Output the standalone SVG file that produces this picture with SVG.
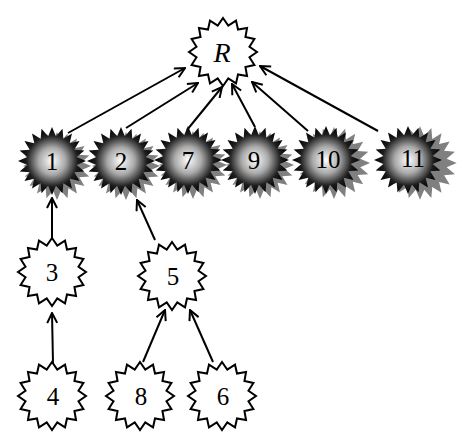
<svg xmlns="http://www.w3.org/2000/svg" xmlns:xlink="http://www.w3.org/1999/xlink" width="474" height="447" viewBox="0 0 474 447">
<style>
.wstar{fill:#fff;stroke:#000;stroke-width:2;stroke-linejoin:miter}
.dstar{fill:url(#dg)}
.shadow{fill:#808080}
.lbl{font-family:"Liberation Serif","DejaVu Serif",serif;font-size:25px;fill:#000;text-anchor:middle}
.edge{stroke:#000;stroke-width:2;fill:none;marker-end:url(#arr)}
</style>
<defs>
<radialGradient id="dg" cx="50%" cy="50%" r="50%">
<stop offset="0" stop-color="#ffffff"/>
<stop offset="0.4" stop-color="#a8a8a8"/>
<stop offset="0.75" stop-color="#1e1e1e"/>
<stop offset="1" stop-color="#000"/>
</radialGradient>
<marker id="arr" viewBox="0 0 12 12" refX="11" refY="6" markerWidth="12" markerHeight="12" markerUnits="userSpaceOnUse" orient="auto">
<path d="M1,1 L11,6 L1,11" fill="none" stroke="#000" stroke-width="2"/>
</marker>
<path id="ws" d="M0,-34 L5.27,-26.48 L13.01,-31.41 L15,-22.45 L24.04,-24.04 L22.45,-15 L31.41,-13.01 L26.48,-5.27 L34,0 L26.48,5.27 L31.41,13.01 L22.45,15 L24.04,24.04 L15,22.45 L13.01,31.41 L5.27,26.48 L0,34 L-5.27,26.48 L-13.01,31.41 L-15,22.45 L-24.04,24.04 L-22.45,15 L-31.41,13.01 L-26.48,5.27 L-34,0 L-26.48,-5.27 L-31.41,-13.01 L-22.45,-15 L-24.04,-24.04 L-15,-22.45 L-13.01,-31.41 L-5.27,-26.48 Z"/>
<path id="ds" d="M0,-34 L3.91,-24.69 L10.51,-32.34 L11.35,-22.28 L19.98,-27.51 L17.68,-17.68 L27.51,-19.98 L22.28,-11.35 L32.34,-10.51 L24.69,-3.91 L34,0 L24.69,3.91 L32.34,10.51 L22.28,11.35 L27.51,19.98 L17.68,17.68 L19.98,27.51 L11.35,22.28 L10.51,32.34 L3.91,24.69 L0,34 L-3.91,24.69 L-10.51,32.34 L-11.35,22.28 L-19.98,27.51 L-17.68,17.68 L-27.51,19.98 L-22.28,11.35 L-32.34,10.51 L-24.69,3.91 L-34,0 L-24.69,-3.91 L-32.34,-10.51 L-22.28,-11.35 L-27.51,-19.98 L-17.68,-17.68 L-19.98,-27.51 L-11.35,-22.28 L-10.51,-32.34 L-3.91,-24.69 Z"/>
</defs>
<rect width="474" height="447" fill="#fff"/>

<g id="edges">
<line class="edge" x1="68" y1="133" x2="185" y2="68"/>
<line class="edge" x1="126" y1="128" x2="198" y2="83"/>
<line class="edge" x1="187" y1="130" x2="222" y2="87"/>
<line class="edge" x1="255" y1="127" x2="232" y2="84"/>
<line class="edge" x1="308" y1="131" x2="252" y2="82"/>
<line class="edge" x1="378" y1="131" x2="260" y2="66"/>
<line class="edge" x1="52" y1="240" x2="52" y2="198"/>
<line class="edge" x1="155" y1="240" x2="137" y2="200"/>
<line class="edge" x1="53" y1="363" x2="52" y2="313"/>
<line class="edge" x1="143" y1="362" x2="165" y2="310"/>
<line class="edge" x1="213" y1="362" x2="190" y2="310"/>
</g>

<g id="node-R">
<use href="#ws" class="wstar" transform="translate(223,52)"/>
<text class="lbl" x="222" y="62" style="font-style:italic;font-size:28px">R</text>
</g>

<g id="node-1">
<use href="#ds" class="shadow" transform="translate(57,166)"/>
<use href="#ds" class="dstar" transform="translate(52,161)"/>
<text class="lbl" x="52" y="170">1</text>
</g>
<g id="node-2">
<use href="#ds" class="shadow" transform="translate(126,166)"/>
<use href="#ds" class="dstar" transform="translate(121,161)"/>
<text class="lbl" x="121" y="170">2</text>
</g>
<g id="node-7">
<use href="#ds" class="shadow" transform="translate(193,165)"/>
<use href="#ds" class="dstar" transform="translate(188,160)"/>
<text class="lbl" x="188" y="169">7</text>
</g>
<g id="node-9">
<use href="#ds" class="shadow" transform="translate(260,165)"/>
<use href="#ds" class="dstar" transform="translate(255,160)"/>
<text class="lbl" x="254" y="169">9</text>
</g>
<g id="node-10">
<use href="#ds" class="shadow" transform="translate(334,163) scale(1.06)"/>
<use href="#ds" class="dstar" transform="translate(326,160)"/>
<text class="lbl" x="328" y="168">10</text>
</g>
<g id="node-11">
<use href="#ds" class="shadow" transform="translate(420,163) scale(1.08)"/>
<use href="#ds" class="dstar" transform="translate(408,160)"/>
<text class="lbl" x="413" y="167">11</text>
</g>

<g id="node-3">
<use href="#ws" class="wstar" transform="translate(52,272)"/>
<text class="lbl" x="52" y="281">3</text>
</g>
<g id="node-5">
<use href="#ws" class="wstar" transform="translate(172,276)"/>
<text class="lbl" x="173" y="285">5</text>
</g>
<g id="node-4">
<use href="#ws" class="wstar" transform="translate(52,396)"/>
<text class="lbl" x="53" y="405">4</text>
</g>
<g id="node-8">
<use href="#ws" class="wstar" transform="translate(140,396)"/>
<text class="lbl" x="141" y="405">8</text>
</g>
<g id="node-6">
<use href="#ws" class="wstar" transform="translate(222,396)"/>
<text class="lbl" x="223" y="405">6</text>
</g>
</svg>
